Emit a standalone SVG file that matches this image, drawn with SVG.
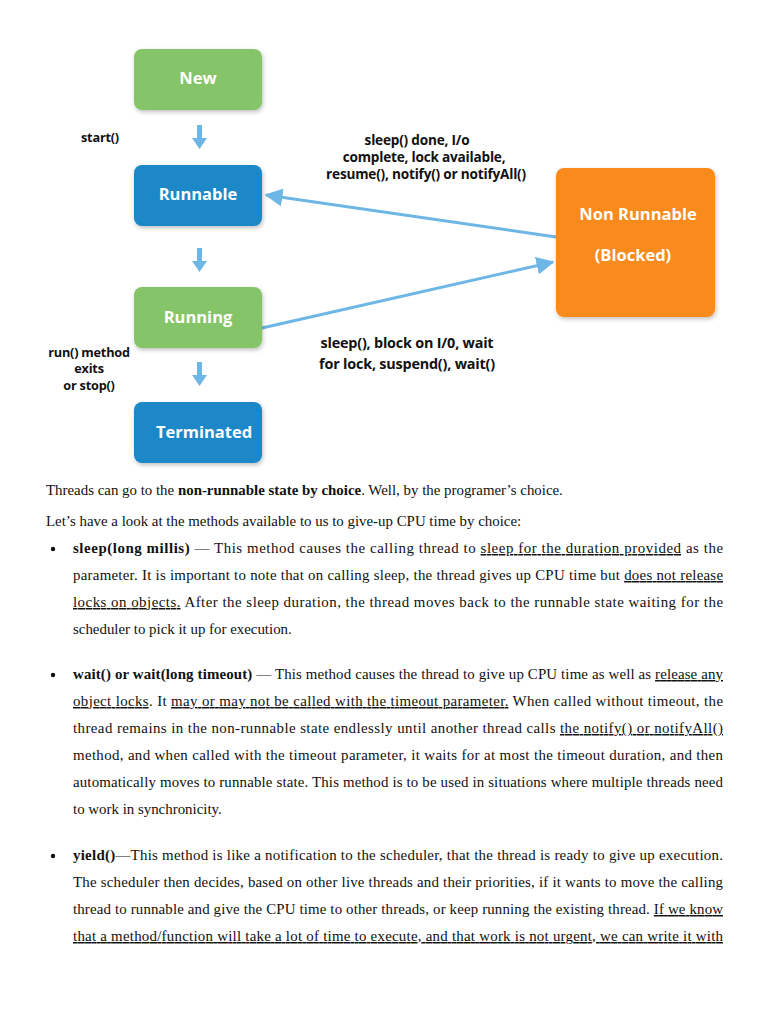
<svg xmlns="http://www.w3.org/2000/svg" width="768" height="1024" viewBox="0 0 768 1024">
<style>
.node{font-family:"Open Sans",Lato,sans-serif;font-weight:bold;font-size:16.5px;fill:#fff;text-anchor:middle}
.lbl{font-family:"Open Sans",Lato,sans-serif;font-weight:bold;font-size:12.7px;fill:#111;text-anchor:middle;letter-spacing:-0.2px}
.top{font-size:13.6px}
.bot{font-size:14.4px}
.conn{stroke:#6db6e6;stroke-width:3;fill:none}
.body{font-family:"Liberation Serif","Times New Roman",serif;font-size:14.9px;fill:#111}
.b{font-weight:bold}
.u{text-decoration:underline}
</style>
<defs>
<filter id="sh" x="-10%" y="-10%" width="130%" height="130%">
<feDropShadow dx="1" dy="2" stdDeviation="2" flood-color="#000" flood-opacity="0.25"/>
</filter>
<marker id="ah" markerWidth="6" markerHeight="6" refX="5.5" refY="3" orient="auto" markerUnits="strokeWidth">
<path d="M0,0 L6,3 L0,6 Z" fill="#6db6e6"/>
</marker>
</defs>
<rect width="768" height="1024" fill="#fff"/>

<g id="connectors">
<path d="M197,125 L197,138 L192,138 L199.5,149 L207,138 L202,138 L202,125 Z" fill="#6db6e6"/>
<path d="M197,248 L197,261 L192,261 L199.5,272 L207,261 L202,261 L202,248 Z" fill="#6db6e6"/>
<path d="M197,362 L197,375 L192,375 L199.5,386 L207,375 L202,375 L202,362 Z" fill="#6db6e6"/>
<line class="conn" x1="556" y1="237" x2="266" y2="195" marker-end="url(#ah)"/>
<line class="conn" x1="262" y1="328" x2="553" y2="262" marker-end="url(#ah)"/>
</g>

<g id="node-new">
<rect x="134" y="49" width="128" height="61" rx="8" fill="#86c46a" filter="url(#sh)"/>
<text class="node" x="198" y="84">New</text>
</g>
<g id="node-runnable">
<rect x="134" y="165" width="128" height="61" rx="8" fill="#1e88c8" filter="url(#sh)"/>
<text class="node" x="198" y="200">Runnable</text>
</g>
<g id="node-running">
<rect x="134" y="287" width="128" height="61" rx="8" fill="#86c46a" filter="url(#sh)"/>
<text class="node" x="198" y="323">Running</text>
</g>
<g id="node-terminated">
<rect x="134" y="402" width="128" height="61" rx="8" fill="#1e88c8" filter="url(#sh)"/>
<text class="node" x="204" y="438">Terminated</text>
</g>
<g id="node-nonrunnable">
<rect x="556" y="168" width="159" height="149" rx="8" fill="#f98a1f" filter="url(#sh)"/>
<text class="node" x="638" y="220">Non  Runnable</text>
<text class="node" x="633" y="261">(Blocked)</text>
</g>

<g id="labels">
<text class="lbl" x="100" y="142">start()</text>
<text class="lbl top" x="417" y="145">sleep() done, I/o</text>
<text class="lbl top" x="424" y="162">complete, lock available,</text>
<text class="lbl top" x="426" y="179">resume(), notify() or notifyAll()</text>
<text class="lbl bot" x="407" y="348">sleep(), block on I/0, wait</text>
<text class="lbl bot" x="407" y="369">for lock, suspend(), wait()</text>
<text class="lbl" x="89" y="357">run() method</text>
<text class="lbl" x="89" y="373">exits</text>
<text class="lbl" x="89" y="390">or stop()</text>
</g>

<g id="body">
<text class="body" x="46" y="495">Threads can go to the <tspan class="b">non-runnable state by choice</tspan>. Well, by the programer’s choice.</text>
<text class="body" x="46" y="526">Let’s have a look at the methods available to us to give-up CPU time by choice:</text>

<circle cx="53" cy="549" r="2.2" fill="#111"/>
<text class="body" x="73" y="553" textLength="650" lengthAdjust="spacing"><tspan class="b">sleep(long millis)</tspan> — This method causes the calling thread to <tspan class="u">sleep for the duration provided</tspan> as the</text>
<text class="body" x="73" y="580" textLength="650" lengthAdjust="spacing">parameter. It is important to note that on calling sleep, the thread gives up CPU time but <tspan class="u">does not release</tspan></text>
<text class="body" x="73" y="607" textLength="650" lengthAdjust="spacing"><tspan class="u">locks on objects.</tspan> After the sleep duration, the thread moves back to the runnable state waiting for the</text>
<text class="body" x="73" y="634">scheduler to pick it up for execution.</text>

<circle cx="53" cy="675" r="2.2" fill="#111"/>
<text class="body" x="73" y="679" textLength="650" lengthAdjust="spacing"><tspan class="b">wait() or wait(long timeout)</tspan> — This method causes the thread to give up CPU time as well as <tspan class="u">release any</tspan></text>
<text class="body" x="73" y="706" textLength="650" lengthAdjust="spacing"><tspan class="u">object locks</tspan>. It <tspan class="u">may or may not be called with the timeout parameter.</tspan> When called without timeout, the</text>
<text class="body" x="73" y="733" textLength="650" lengthAdjust="spacing">thread remains in the non-runnable state endlessly until another thread calls <tspan class="u">the notify() or notifyAll()</tspan></text>
<text class="body" x="73" y="760" textLength="650" lengthAdjust="spacing">method, and when called with the timeout parameter, it waits for at most the timeout duration, and then</text>
<text class="body" x="73" y="787" textLength="650" lengthAdjust="spacing">automatically moves to runnable state. This method is to be used in situations where multiple threads need</text>
<text class="body" x="73" y="814">to work in synchronicity.</text>

<circle cx="53" cy="856" r="2.2" fill="#111"/>
<text class="body" x="73" y="860" textLength="650" lengthAdjust="spacing"><tspan class="b">yield()</tspan>—This method is like a notification to the scheduler, that the thread is ready to give up execution.</text>
<text class="body" x="73" y="887" textLength="650" lengthAdjust="spacing">The scheduler then decides, based on other live threads and their priorities, if it wants to move the calling</text>
<text class="body" x="73" y="914" textLength="650" lengthAdjust="spacing">thread to runnable and give the CPU time to other threads, or keep running the existing thread. <tspan class="u">If we know</tspan></text>
<text class="body" x="73" y="941" textLength="650" lengthAdjust="spacing"><tspan class="u">that a method/function will take a lot of time to execute, and that work is not urgent, we can write it with</tspan></text>
</g>
</svg>
